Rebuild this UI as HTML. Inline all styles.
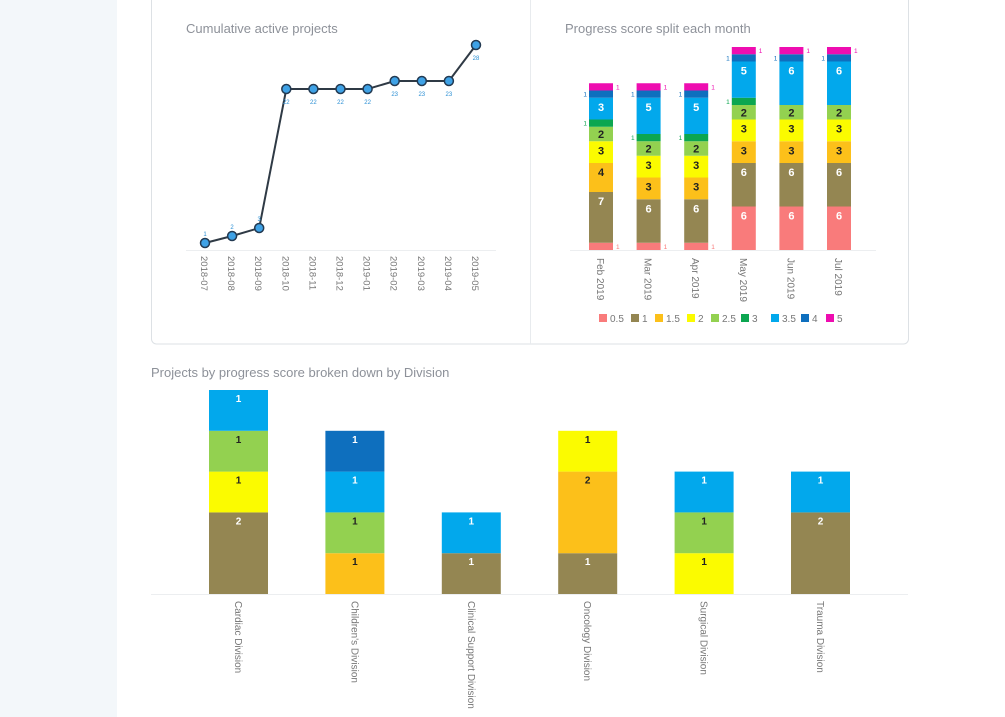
<!DOCTYPE html>
<html><head><meta charset="utf-8"><style>
html,body{margin:0;padding:0;width:1005px;height:717px;overflow:hidden;background:#fff;font-family:"Liberation Sans",sans-serif}
</style></head><body>
<svg id="s" width="1005" height="717" xmlns="http://www.w3.org/2000/svg" font-family="Liberation Sans, sans-serif">
<rect x="0" y="0" width="117" height="717" fill="#f3f7fa"/>
<rect x="151.5" y="-6" width="757" height="350" rx="5" fill="#fff" stroke="#dde1e5"/>
<line x1="530.5" y1="0" x2="530.5" y2="344" stroke="#e8ebee"/>
<text x="186" y="33" font-size="13" fill="#8d9199">Cumulative active projects</text>
<text x="565" y="33" font-size="13" fill="#8d9199">Progress score split each month</text>
<text x="151" y="377" font-size="13" fill="#8d9199">Projects by progress score broken down by Division</text>
<line x1="186" y1="250.5" x2="496" y2="250.5" stroke="#eceef0"/>
<line x1="570" y1="250.5" x2="876" y2="250.5" stroke="#eceef0"/>
<line x1="151" y1="594.5" x2="908" y2="594.5" stroke="#eceef0"/>
<g id="g"></g>
</svg>
<script>
var g=document.getElementById('g'),h='';
var C={0.5:'#f97b7b',1:'#948652',1.5:'#fcc01a',2:'#fbfb00',2.5:'#93d150',3:'#0ca650',3.5:'#02a8ec',4:'#0e6fbe',5:'#ee0db0'};
var keys=[0.5,1,1.5,2,2.5,3,3.5,4,5];
function wt(k){return k==0.5||k==1||k==3.5||k==4;}
// line chart
var ys=[243,236,228,89,89,89,89,81,81,81,45],lb=['1','2','3','22','22','22','22','23','23','23','28'];
var xs=[],pts=[];
for(var i=0;i<11;i++){var x=205+i*27.1;xs.push(x);pts.push(x+','+ys[i]);}
h+='<polyline points="'+pts.join(' ')+'" fill="none" stroke="#2f3a45" stroke-width="2"/>';
var months=['2018-07','2018-08','2018-09','2018-10','2018-11','2018-12','2019-01','2019-02','2019-03','2019-04','2019-05'];
for(i=0;i<11;i++){
 h+='<circle cx="'+xs[i]+'" cy="'+ys[i]+'" r="4.5" fill="#3fa2e6" stroke="#233a52" stroke-width="1.5"/>';
 var ly=i<3?ys[i]-7:ys[i]+15;
 h+='<text x="'+xs[i]+'" y="'+ly+'" font-size="6" fill="#2a8fd4" text-anchor="middle">'+lb[i]+'</text>';
 h+='<text transform="translate('+(xs[i]-4)+',256) rotate(90)" font-size="9.5" fill="#777">'+months[i]+'</text>';
}
// monthly stacked
var M=[['Feb 2019',[1,7,4,3,2,1,3,1,1]],['Mar 2019',[1,6,3,3,2,1,5,1,1]],['Apr 2019',[1,6,3,3,2,1,5,1,1]],
['May 2019',[6,6,3,3,2,1,5,1,1]],['Jun 2019',[6,6,3,3,2,0,6,1,1]],['Jul 2019',[6,6,3,3,2,0,6,1,1]]];
var u=7.25;
for(i=0;i<6;i++){
 var x0=589+i*47.6,y=250,v=M[i][1];
 for(var j=0;j<9;j++){ if(!v[j])continue; var hh=v[j]*u; y-=hh; var k=keys[j];
  h+='<rect x="'+x0+'" y="'+y+'" width="24" height="'+hh+'" fill="'+C[k]+'"/>';
  if(v[j]>1) h+='<text x="'+(x0+12)+'" y="'+(y+Math.min(13,hh/2+4)+ (hh>20?0:0))+'" font-size="11" font-weight="bold" fill="'+(wt(k)?'#fff':'#222')+'" text-anchor="middle">'+v[j]+'</text>';
  else { var right=(k==0.5||k==5); h+='<text x="'+(right?x0+27:x0-2)+'" y="'+(y+6)+'" font-size="6.5" fill="'+C[k]+'" text-anchor="'+(right?'start':'end')+'">1</text>'; }
 }
 h+='<text transform="translate('+(x0+8)+',258) rotate(90)" font-size="10" fill="#777">'+M[i][0]+'</text>';
}
// legend
var lx=[599,631,655,687,711,741,771,801,826];
for(i=0;i<9;i++){h+='<rect x="'+lx[i]+'" y="314" width="8" height="8" fill="'+C[keys[i]]+'"/><text x="'+(lx[i]+11)+'" y="322" font-size="10" fill="#777">'+keys[i]+'</text>';}
// division
var D=[['Cardiac Division',[[1,2],[2,1],[2.5,1],[3.5,1]]],['Children\'s Division',[[1.5,1],[2.5,1],[3.5,1],[4,1]]],
['Clinical Support Division',[[1,1],[3.5,1]]],['Oncology Division',[[1,1],[1.5,2],[2,1]]],
['Surgical Division',[[2,1],[2.5,1],[3.5,1]]],['Trauma Division',[[1,2],[3.5,1]]]];
var du=40.8;
for(i=0;i<6;i++){
 var x0=209+i*116.4,y=594;
 D[i][1].forEach(function(s){var hh=s[1]*du;y-=hh;
  h+='<rect x="'+x0+'" y="'+y+'" width="59" height="'+hh+'" fill="'+C[s[0]]+'"/>';
  h+='<text x="'+(x0+29.5)+'" y="'+(y+12)+'" font-size="10" font-weight="bold" fill="'+(wt(s[0])?'#fff':'#222')+'" text-anchor="middle">'+s[1]+'</text>';});
 h+='<text transform="translate('+(x0+26)+',601) rotate(90)" font-size="10" fill="#777">'+D[i][0]+'</text>';
}
g.innerHTML=h;
</script>
</body></html>
